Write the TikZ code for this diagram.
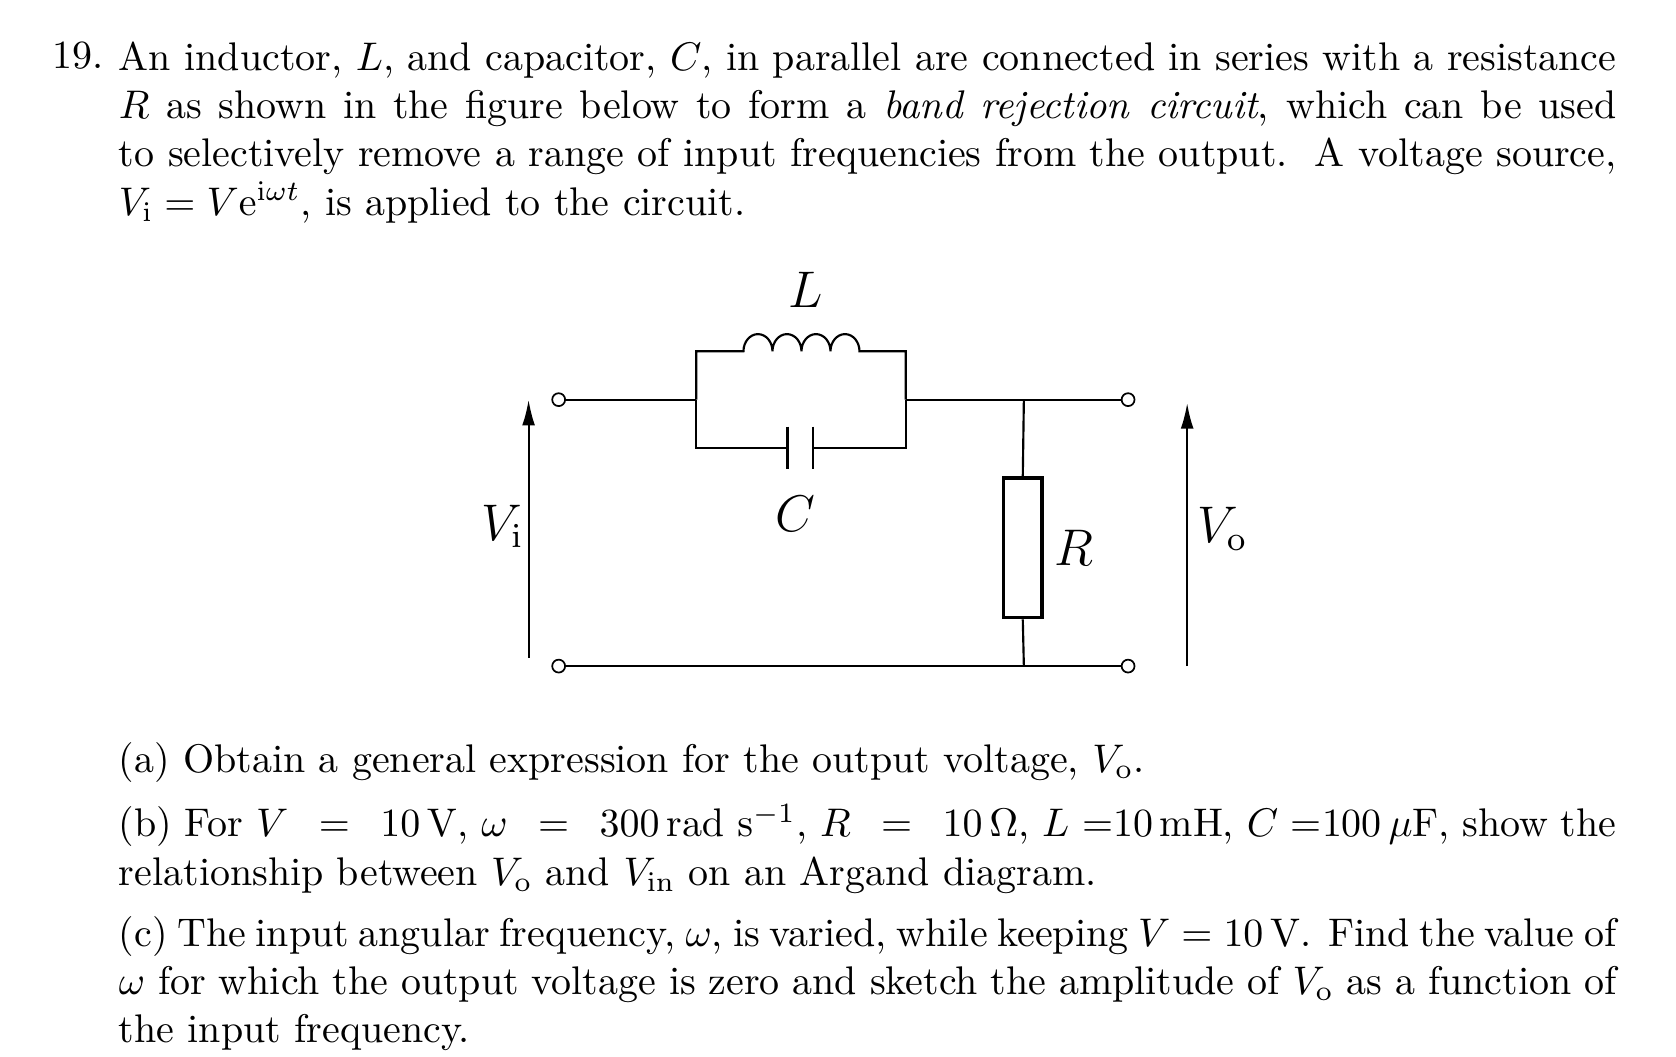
\documentclass[tikz,border=0pt]{standalone}
\usetikzlibrary{arrows.meta}
\begin{document}
\begin{tikzpicture}[x=0.5pt,y=-0.5pt,
  txt/.style={anchor=north west,inner sep=0pt,text width=374.7pt,align=justify,font=\fontsize{10}{12.1}\selectfont,scale=1.86,transform shape},
  term/.style={circle,draw,fill=white,inner sep=0pt,minimum size=6pt,line width=0.8pt},
  wire/.style={line width=1pt},
  lab/.style={font=\fontsize{12}{14}\selectfont,inner sep=0pt,scale=2,transform shape},
  varr/.style={line width=1pt,-{Latex[length=12pt,width=6pt]}}]
\useasboundingbox (0,0) rectangle (1560,983);
% paragraph
\node[anchor=north west,inner sep=0pt,font=\fontsize{10}{12.1}\selectfont,scale=1.86,transform shape] (num) at (48,38) {19.};
\node[txt] (para) at (110,38) {An inductor, $L$, and capacitor, $C$, in parallel are connected in series with a resistance $R$ as shown in the figure below to form a \textit{band rejection circuit}, which can be used to selectively remove a range of input frequencies from the output.\ \ A voltage source, $V_\mathrm{i}=V\mathrm{e}^{\mathrm{i}\omega t}$, is applied to the circuit.};
% circuit
\node[term] (i1) at (520,372) {};
\node[term] (i2) at (520,620) {};
\node[term] (o1) at (1050,372) {};
\node[term] (o2) at (1050,620) {};
\coordinate (pl) at (648,372);
\coordinate (pr) at (843,372);
\coordinate (j1) at (953,372);
\coordinate (j2) at (953,620);
\draw[wire] (i1) -- (pl);
\draw[wire] (pl) -- (648,327) -- (692,327)
  arc[start angle=180,end angle=0,x radius=6.75pt,y radius=8pt]
  arc[start angle=180,end angle=0,x radius=6.75pt,y radius=8pt]
  arc[start angle=180,end angle=0,x radius=6.75pt,y radius=8pt]
  arc[start angle=180,end angle=0,x radius=6.75pt,y radius=8pt]
  -- (843,327) -- (pr);
\draw[wire] (pl) -- (648,417) -- (733,417);
\draw[wire] (757,417) -- (843,417) -- (pr);
\draw[wire] (733,397) -- (733,437);
\draw[wire] (757,397) -- (757,437);
\draw[wire] (pr) -- (o1);
\node[draw,line width=1.6pt,minimum width=18pt,minimum height=65pt,inner sep=0pt] (R) at (952,510) {};
\draw[wire] (j1) -- (R.north);
\draw[wire] (R.south) -- (j2);
\draw[wire] (i2) -- (o2);
\coordinate (va) at (492,612);
\coordinate (vb) at (492,372);
\coordinate (vc) at (1105,620);
\coordinate (vd) at (1105,375);
\draw[varr] (va) -- (vb);
\draw[varr] (vc) -- (vd);
\node[lab] (Ll) at (750,270) {$L$};
\node[lab] (Cl) at (740,478) {$C$};
\node[lab] (Rl) at (1000,510) {$R$};
\node[lab] (Vil) at (468,490) {$V_\mathrm{i}$};
\node[lab] (Vol) at (1138,492) {$V_\mathrm{o}$};
% questions
\node[txt] (qa) at (110,690) {(a) Obtain a general expression for the output voltage, $V_\mathrm{o}$.};
\node[txt] (qb) at (110,748) {(b) For $V\ \,=\ \,10\,\mathrm{V}$, $\omega\ \,=\ \,300\,\mathrm{rad\ s^{-1}}$, $R\ \,=\ \,10\,\Omega$, $L$ =10\,mH, $C$ =100\,$\mu$F, show the relationship between $V_\mathrm{o}$ and $V_\mathrm{in}$ on an Argand diagram.};
\node[txt] (qc) at (110,852) {(c) The input angular frequency, $\omega$, is varied, while keeping $V=10\,\mathrm{V}$. Find the value of\linebreak $\omega$ for which the output voltage is zero and sketch the amplitude of $V_\mathrm{o}$ as a function of\linebreak the input frequency.};
\end{tikzpicture}
\end{document}
